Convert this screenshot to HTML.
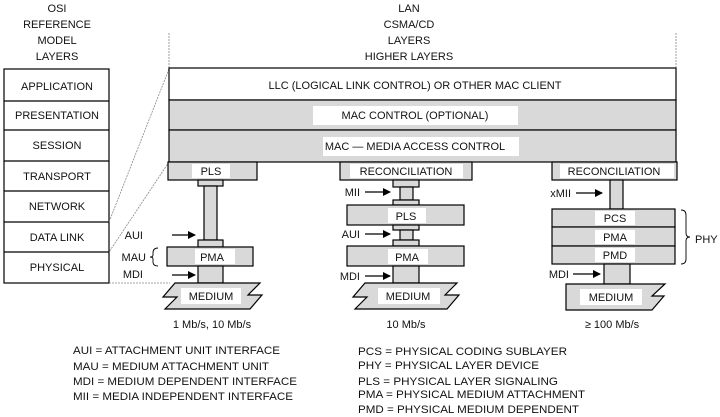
<!DOCTYPE html>
<html><head><meta charset="utf-8"><style>
html,body{margin:0;padding:0;background:#fff}
svg{display:block}
text{font-family:"Liberation Sans",sans-serif;font-size:11px;fill:#111}
</style></head><body>
<svg width="720" height="417" viewBox="0 0 720 417" xmlns="http://www.w3.org/2000/svg">
<defs>
<marker id="ah" markerWidth="8" markerHeight="8" refX="7" refY="4" orient="auto" markerUnits="userSpaceOnUse"><path d="M0,0 L8,4 L0,8 z" fill="#000"/></marker>
</defs>
<g text-anchor="middle">
<text x="57" y="12">OSI</text><text x="57" y="28">REFERENCE</text><text x="57" y="44">MODEL</text><text x="57" y="60">LAYERS</text>
<text x="409" y="12">LAN</text><text x="409" y="28">CSMA/CD</text><text x="409" y="44">LAYERS</text><text x="409" y="60">HIGHER LAYERS</text>
</g>
<g fill="#fff" stroke="#000" stroke-width="1.2">
<rect x="4" y="69" width="105" height="214"/>
<line x1="4" y1="101" x2="109" y2="101"/><line x1="4" y1="130" x2="109" y2="130"/><line x1="4" y1="161" x2="109" y2="161"/><line x1="4" y1="191" x2="109" y2="191"/><line x1="4" y1="222" x2="109" y2="222"/><line x1="4" y1="252" x2="109" y2="252"/>
</g>
<g text-anchor="middle">
<text x="57" y="90">APPLICATION</text><text x="57" y="119">PRESENTATION</text><text x="57" y="149">SESSION</text><text x="57" y="180">TRANSPORT</text><text x="57" y="210">NETWORK</text><text x="57" y="241">DATA LINK</text><text x="57" y="271">PHYSICAL</text>
</g>
<g stroke="#888" stroke-width="0.8" stroke-dasharray="2,1" fill="none">
<line x1="169" y1="69" x2="109" y2="222"/>
<line x1="169" y1="162" x2="109" y2="252"/>
<line x1="109" y1="283" x2="170" y2="283"/>
<line x1="169" y1="33" x2="169" y2="68"/>
<line x1="676" y1="33" x2="676" y2="68"/>
</g>
<g stroke="#000" stroke-width="1.2">
<rect x="169" y="68" width="507" height="32" fill="#fff"/>
<rect x="169" y="100" width="507" height="30" fill="#d9d9d9"/>
<rect x="169" y="130" width="507" height="32" fill="#d9d9d9"/>
</g>
<rect x="313" y="106" width="205" height="19" fill="#fff"/>
<rect x="323" y="137" width="196" height="19" fill="#fff"/>
<g text-anchor="middle">
<text x="415" y="89">LLC (LOGICAL LINK CONTROL) OR OTHER MAC CLIENT</text>
<text x="415" y="119">MAC CONTROL (OPTIONAL)</text>
<text x="415" y="150">MAC — MEDIA ACCESS CONTROL</text>
</g>
<g stroke="#000" stroke-width="1.2" fill="#d9d9d9">
<rect x="168" y="162" width="89" height="18"/>
<rect x="198" y="180" width="25" height="6"/>
<rect x="204" y="186" width="13" height="54"/>
<rect x="198" y="240" width="25" height="7"/>
<rect x="167" y="247" width="86" height="19"/>
<rect x="198" y="266" width="25" height="17"/>
<path d="M175,283 L260,283 L248,295 L262,295 L250,309 L165,309 L177,297 L163,297 Z"/>
</g>
<rect x="192" y="164" width="38" height="14" fill="#fff"/>
<rect x="195" y="249" width="40" height="15" fill="#fff"/>
<rect x="181" y="288" width="60" height="16" fill="#fff"/>
<g text-anchor="middle">
<text x="211" y="175">PLS</text><text x="212" y="261">PMA</text><text x="211" y="300">MEDIUM</text>
<text x="212" y="328">1 Mb/s, 10 Mb/s</text>
</g>
<text x="143" y="239" text-anchor="end">AUI</text>
<text x="146" y="261" text-anchor="end">MAU</text>
<text x="143" y="278" text-anchor="end">MDI</text>
<g stroke="#000" stroke-width="1.3" fill="none">
<line x1="172" y1="235" x2="195" y2="235" marker-end="url(#ah)"/>
<line x1="172" y1="275" x2="195" y2="275" marker-end="url(#ah)"/>
<path d="M158,248 Q153,248 153,253 L153,255 Q153,257 150,257 Q153,257 153,259 L153,262 Q153,266 158,266" stroke-width="0.9"/>
</g>
<g stroke="#000" stroke-width="1.2" fill="#d9d9d9">
<rect x="340" y="162" width="132" height="18"/>
<rect x="393" y="180" width="26" height="7"/>
<rect x="400" y="187" width="13" height="13"/>
<rect x="393" y="200" width="26" height="5"/>
<rect x="347" y="205" width="117" height="20"/>
<rect x="393" y="225" width="26" height="5"/>
<rect x="400" y="230" width="13" height="10"/>
<rect x="393" y="240" width="26" height="6"/>
<rect x="347" y="246" width="117" height="20"/>
<rect x="393" y="266" width="26" height="17"/>
<path d="M365,283 L457,283 L445,295 L459,295 L447,309 L355,309 L367,297 L353,297 Z"/>
</g>
<rect x="350" y="164" width="113" height="14" fill="#fff"/>
<rect x="388" y="208" width="38" height="15" fill="#fff"/>
<rect x="388" y="249" width="40" height="15" fill="#fff"/>
<rect x="378" y="288" width="62" height="16" fill="#fff"/>
<g text-anchor="middle">
<text x="406" y="175">RECONCILIATION</text><text x="406" y="220">PLS</text><text x="407" y="261">PMA</text><text x="408" y="300">MEDIUM</text>
<text x="406" y="328">10 Mb/s</text>
</g>
<text x="360" y="196" text-anchor="end">MII</text>
<text x="360" y="238" text-anchor="end">AUI</text>
<text x="360" y="280" text-anchor="end">MDI</text>
<g stroke="#000" stroke-width="1.3">
<line x1="365" y1="192" x2="390" y2="192" marker-end="url(#ah)"/>
<line x1="365" y1="234" x2="390" y2="234" marker-end="url(#ah)"/>
<line x1="365" y1="276" x2="390" y2="276" marker-end="url(#ah)"/>
</g>
<g stroke="#000" stroke-width="1.2" fill="#d9d9d9">
<rect x="552" y="162" width="125" height="18"/>
<rect x="610" y="180" width="13" height="29"/>
<rect x="552" y="209" width="123" height="18"/>
<rect x="552" y="227" width="123" height="19"/>
<rect x="552" y="246" width="123" height="18"/>
<rect x="604" y="264" width="26" height="20"/>
<path d="M566,284 L665,284 L652,296 L664,296 L652,310 L566,310 Z"/>
</g>
<rect x="560" y="164" width="114" height="14" fill="#fff"/>
<rect x="595" y="211" width="40" height="14" fill="#fff"/>
<rect x="595" y="230" width="40" height="14" fill="#fff"/>
<rect x="595" y="248" width="40" height="14" fill="#fff"/>
<rect x="580" y="289" width="62" height="16" fill="#fff"/>
<g text-anchor="middle">
<text x="614" y="175">RECONCILIATION</text><text x="615" y="222">PCS</text><text x="615" y="241">PMA</text><text x="615" y="259">PMD</text><text x="611" y="301">MEDIUM</text>
<text x="612" y="328">≥ 100 Mb/s</text>
</g>
<text x="571" y="197" text-anchor="end">xMII</text>
<text x="569" y="278" text-anchor="end">MDI</text>
<text x="695" y="243">PHY</text>
<g stroke="#000" stroke-width="1.3" fill="none">
<line x1="576" y1="193" x2="602" y2="193" marker-end="url(#ah)"/>
<line x1="573" y1="274" x2="600" y2="274" marker-end="url(#ah)"/>
<path d="M681,210 Q686,210 686,215 L686,233 Q686,237 690,237 Q686,237 686,241 L686,259 Q686,264 681,264" stroke-width="0.9"/>
</g>
<g>
<text x="73" y="354" textLength="207" lengthAdjust="spacingAndGlyphs">AUI = ATTACHMENT UNIT INTERFACE</text>
<text x="73" y="370" textLength="196" lengthAdjust="spacingAndGlyphs">MAU = MEDIUM ATTACHMENT UNIT</text>
<text x="73" y="385" textLength="224" lengthAdjust="spacingAndGlyphs">MDI = MEDIUM DEPENDENT INTERFACE</text>
<text x="73" y="400" textLength="220" lengthAdjust="spacingAndGlyphs">MII = MEDIA INDEPENDENT INTERFACE</text>
<text x="358" y="355" textLength="209" lengthAdjust="spacingAndGlyphs">PCS = PHYSICAL CODING SUBLAYER</text>
<text x="358" y="369" textLength="181" lengthAdjust="spacingAndGlyphs">PHY = PHYSICAL LAYER DEVICE</text>
<text x="358" y="385" textLength="200" lengthAdjust="spacingAndGlyphs">PLS = PHYSICAL LAYER SIGNALING</text>
<text x="358" y="398" textLength="227" lengthAdjust="spacingAndGlyphs">PMA = PHYSICAL MEDIUM ATTACHMENT</text>
<text x="358" y="413" textLength="221" lengthAdjust="spacingAndGlyphs">PMD = PHYSICAL MEDIUM DEPENDENT</text>
</g>
</svg>
</body></html>
